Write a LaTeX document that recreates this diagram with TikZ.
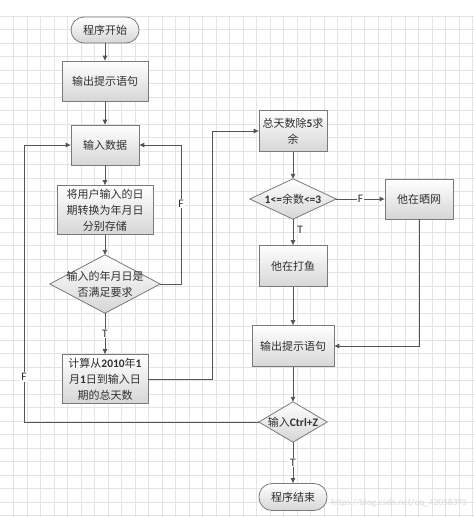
\documentclass[tikz,border=0pt]{standalone}
\usepackage{fontspec}
\setmainfont{Noto Sans CJK SC}
\newfontfamily\lat{Carlito}
\newcommand\latb[1]{{\lat\bfseries\fontsize{11.5}{16}\selectfont #1}}
\usetikzlibrary{arrows.meta}
\pgfdeclarelayer{gridlayer}
\pgfdeclarelayer{shapelayer}
\pgfsetlayers{gridlayer,shapelayer,main}
\definecolor{linegray}{HTML}{7A7A7A}
\definecolor{shadegray}{HTML}{D6D6D6}
\definecolor{edgegray}{HTML}{555555}
\definecolor{gridc}{HTML}{E4E4E4}
\definecolor{txt}{HTML}{303030}
\begin{document}
\begin{tikzpicture}[x=1pt,y=-1pt,
  font=\fontsize{11}{16}\selectfont,
  boxst/.style={draw=linegray, line width=0.8pt, top color=white, bottom color=shadegray,
    inner sep=0pt, align=center, text=txt},
  termst/.style={boxst, rounded corners=13pt},
  diast/.style={inner sep=0pt, align=center, text=txt},
  arr/.style={draw=edgegray, line width=0.9pt, -{Triangle[length=5pt,width=4.5pt]}},
  lbl/.style={fill=white, inner sep=1pt, text=txt, font=\lat\fontsize{11.5}{12}\selectfont},
  lblplain/.style={inner sep=1pt, text=txt, font=\lat\fontsize{11.5}{12}\selectfont},
  diafill/.style={draw=linegray, line width=0.8pt, top color=white, bottom color=shadegray}]
\useasboundingbox (0,0) rectangle (474,517);
\begin{pgfonlayer}{gridlayer}
  \fill[white] (0,0) rectangle (474,517);
  \foreach \i in {0,...,37} \draw[gridc, line width=0.6pt] (0,16+13.5*\i) -- (474,16+13.5*\i);
  \foreach \i in {1,...,35} \draw[gridc, line width=0.6pt] (13.5*\i,16) -- (13.5*\i,517);
\end{pgfonlayer}

% left column
\node[termst, minimum width=68pt, minimum height=26pt] (start) at (105,30) {程序开始};
\node[boxst, minimum width=86pt, minimum height=40pt] (out1) at (105,81) {输出提示语句};
\node[boxst, minimum width=68pt, minimum height=40pt] (inp) at (105,145) {输入数据};
\node[boxst, minimum width=96pt, minimum height=49pt] (conv) at (105,210) {将用户输入的日\\期转换为年月日\\分别存储};
\node[diast, minimum width=110pt, minimum height=58pt] (d1) at (105,284) {输入的年月日是\\否满足要求};
\node[boxst, minimum width=86pt, minimum height=49pt] (calc) at (105,379) {计算从\latb{2010}年\latb{1}\\月\latb{1}日到输入日\\期的总天数};

% right column
\node[boxst, minimum width=68pt, minimum height=41pt] (mod) at (293,131) {总天数除\latb{5}求\\余};
\node[diast, minimum width=86pt, minimum height=40pt] (d2) at (293,199) {\latb{1<=}余数\latb{<=3}};
\node[boxst, minimum width=68pt, minimum height=40pt] (net) at (419,199) {他在晒网};
\node[boxst, minimum width=68pt, minimum height=41pt] (fish) at (293,266) {他在打鱼};
\node[boxst, minimum width=82pt, minimum height=41pt] (out2) at (293,346) {输出提示语句};
\node[diast, minimum width=68pt, minimum height=40pt] (d3) at (293,422) {输入\latb{Ctrl+Z}};
\node[termst, minimum width=68pt, minimum height=27pt] (end) at (293,497) {程序结束};

\begin{pgfonlayer}{shapelayer}
  \foreach \d in {d1,d2,d3}
    \draw[diafill] (\d.north) -- (\d.east) -- (\d.south) -- (\d.west) -- cycle;
\end{pgfonlayer}

\coordinate (fcol) at (181,0);
\coordinate (lcol) at (24,0);
\coordinate (rcol) at (212,0);

% connectors
\draw[arr] (start.south) -- (out1.north);
\draw[arr] (out1.south) -- (inp.north);
\draw[arr] (inp.south) -- (conv.north);
\draw[arr] (conv.south) -- (d1.north);
\draw[arr] (d1.south) -- node[lbl]{T} (calc.north);
\draw[arr] (d1.east) -- (d1.east -| fcol) |- (inp.east) node[lbl, pos=0.29]{F};
\draw[arr] (calc.east) -- (calc.east -| rcol) |- (mod.west);
\draw[arr] (mod.south) -- (d2.north);
\draw[arr] (d2.east) -- node[lbl]{F} (net.west);
\draw[arr] (d2.south) -- node[lblplain, right=3pt, pos=0.4]{T} (fish.north);
\draw[arr] (fish.south) -- (out2.north);
\draw[arr] (net.south) |- (out2.east);
\draw[arr] (out2.south) -- (d3.north);
\draw[arr] (d3.south) -- node[lbl]{T} (end.north);
\draw[arr] (d3.west) -- (d3.west -| lcol) |- (inp.west) node[lbl, pos=0.081]{F};

\node[text=gray!30, anchor=west, inner sep=0pt, font=\lat\fontsize{9.3}{10}\selectfont] (wm) at (331,503) {https://blog.csdn.net/qq\_42058393};
\end{tikzpicture}
\end{document}
